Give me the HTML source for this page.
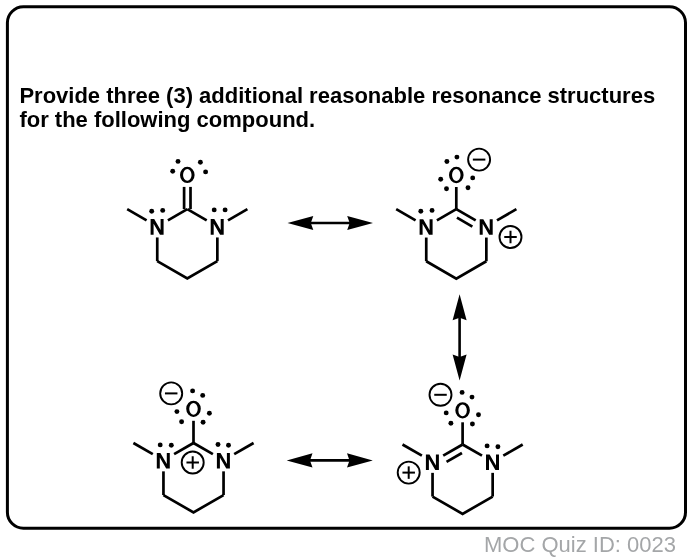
<!DOCTYPE html>
<html><head><meta charset="utf-8"><style>
html,body{margin:0;padding:0;background:#fff;}
body{width:692px;height:558px;overflow:hidden;position:relative;font-family:"Liberation Sans",sans-serif;}
svg{position:absolute;left:0;top:0;will-change:transform;}
svg text{font-family:"Liberation Sans",sans-serif;font-weight:bold;fill:#000;}
</style></head><body>
<svg width="692" height="558" viewBox="0 0 692 558">
<rect x="7.4" y="6.8" width="678.1" height="521.4" rx="16" ry="16" fill="none" stroke="#000" stroke-width="3"/>
<line x1="187.3" y1="209.1" x2="167.9" y2="220.3" stroke="#000" stroke-width="2.7" stroke-linecap="butt"/>
<line x1="187.3" y1="209.1" x2="206.7" y2="220.3" stroke="#000" stroke-width="2.7" stroke-linecap="butt"/>
<line x1="157.25" y1="237.45" x2="157.25" y2="261.15" stroke="#000" stroke-width="2.7" stroke-linecap="butt"/>
<line x1="217.35" y1="237.45" x2="217.35" y2="261.15" stroke="#000" stroke-width="2.7" stroke-linecap="butt"/>
<polyline points="157.25,261.15 187.3,278.5 217.35,261.15" fill="none" stroke="#000" stroke-width="2.7" stroke-linejoin="miter"/>
<line x1="127.2" y1="209.1" x2="146.6" y2="220.3" stroke="#000" stroke-width="2.7" stroke-linecap="butt"/>
<line x1="247.4" y1="209.1" x2="228" y2="220.3" stroke="#000" stroke-width="2.7" stroke-linecap="butt"/>
<line x1="184.1" y1="186.9" x2="184.1" y2="209.1" stroke="#000" stroke-width="2.7" stroke-linecap="butt"/>
<line x1="190.5" y1="186.9" x2="190.5" y2="209.1" stroke="#000" stroke-width="2.7" stroke-linecap="butt"/>
<path fill-rule="evenodd" fill="#000" d="M180,174.9 a7.3,8.15 0 1,0 14.6,0 a7.3,8.15 0 1,0 -14.6,0 Z M183.05,174.9 a4.25,5.9 0 1,0 8.5,0 a4.25,5.9 0 1,0 -8.5,0 Z"/>
<path fill="#000" d="M150.6,234.65 L150.6,219.05 L154.2,219.05 L160.6,230.05 L160.6,219.05 L163.6,219.05 L163.6,234.65 L160,234.65 L153.6,223.65 L153.6,234.65 Z"/>
<path fill="#000" d="M210.7,234.65 L210.7,219.05 L214.3,219.05 L220.7,230.05 L220.7,219.05 L223.7,219.05 L223.7,234.65 L220.1,234.65 L213.7,223.65 L213.7,234.65 Z"/>
<circle cx="178" cy="161.4" r="2.45" fill="#000"/>
<circle cx="200.4" cy="162.3" r="2.45" fill="#000"/>
<circle cx="172.7" cy="171.2" r="2.45" fill="#000"/>
<circle cx="205.6" cy="171.9" r="2.45" fill="#000"/>
<circle cx="151.7" cy="211.3" r="2.45" fill="#000"/>
<circle cx="162.7" cy="210.4" r="2.45" fill="#000"/>
<circle cx="214.2" cy="209.9" r="2.45" fill="#000"/>
<circle cx="225.1" cy="209.9" r="2.45" fill="#000"/>
<line x1="456.3" y1="209.2" x2="436.9" y2="220.4" stroke="#000" stroke-width="2.7" stroke-linecap="butt"/>
<line x1="456.3" y1="209.2" x2="475.7" y2="220.4" stroke="#000" stroke-width="2.7" stroke-linecap="butt"/>
<line x1="426.25" y1="237.55" x2="426.25" y2="261.25" stroke="#000" stroke-width="2.7" stroke-linecap="butt"/>
<line x1="486.35" y1="237.55" x2="486.35" y2="261.25" stroke="#000" stroke-width="2.7" stroke-linecap="butt"/>
<polyline points="426.25,261.25 456.3,278.6 486.35,261.25" fill="none" stroke="#000" stroke-width="2.7" stroke-linejoin="miter"/>
<line x1="396.2" y1="209.2" x2="415.6" y2="220.4" stroke="#000" stroke-width="2.7" stroke-linecap="butt"/>
<line x1="516.4" y1="209.2" x2="497" y2="220.4" stroke="#000" stroke-width="2.7" stroke-linecap="butt"/>
<line x1="456.3" y1="187" x2="456.3" y2="209.2" stroke="#000" stroke-width="2.7" stroke-linecap="butt"/>
<line x1="456.96" y1="217.66" x2="472.37" y2="226.56" stroke="#000" stroke-width="2.7" stroke-linecap="butt"/>
<path fill-rule="evenodd" fill="#000" d="M449,175 a7.3,8.15 0 1,0 14.6,0 a7.3,8.15 0 1,0 -14.6,0 Z M452.05,175 a4.25,5.9 0 1,0 8.5,0 a4.25,5.9 0 1,0 -8.5,0 Z"/>
<path fill="#000" d="M419.6,234.75 L419.6,219.15 L423.2,219.15 L429.6,230.15 L429.6,219.15 L432.6,219.15 L432.6,234.75 L429,234.75 L422.6,223.75 L422.6,234.75 Z"/>
<path fill="#000" d="M479.7,234.75 L479.7,219.15 L483.3,219.15 L489.7,230.15 L489.7,219.15 L492.7,219.15 L492.7,234.75 L489.1,234.75 L482.7,223.75 L482.7,234.75 Z"/>
<circle cx="446.9" cy="161.5" r="2.45" fill="#000"/>
<circle cx="456.9" cy="157.1" r="2.45" fill="#000"/>
<circle cx="440.7" cy="179.2" r="2.45" fill="#000"/>
<circle cx="446.5" cy="188.7" r="2.45" fill="#000"/>
<circle cx="472.7" cy="177.9" r="2.45" fill="#000"/>
<circle cx="468" cy="187.7" r="2.45" fill="#000"/>
<circle cx="420.8" cy="211.3" r="2.45" fill="#000"/>
<circle cx="432.05" cy="210.4" r="2.45" fill="#000"/>
<circle cx="479.1" cy="159.6" r="11.0" fill="none" stroke="#000" stroke-width="1.9"/><line x1="472.85" y1="159.6" x2="485.35" y2="159.6" stroke="#000" stroke-width="2.0" stroke-linecap="butt"/>
<circle cx="510.5" cy="237" r="11.0" fill="none" stroke="#000" stroke-width="1.9"/><line x1="504.25" y1="237" x2="516.75" y2="237" stroke="#000" stroke-width="2.0" stroke-linecap="butt"/><line x1="510.5" y1="230.75" x2="510.5" y2="243.25" stroke="#000" stroke-width="2.0" stroke-linecap="butt"/>
<line x1="462.6" y1="444.5" x2="443.2" y2="455.7" stroke="#000" stroke-width="2.7" stroke-linecap="butt"/>
<line x1="462.6" y1="444.5" x2="482" y2="455.7" stroke="#000" stroke-width="2.7" stroke-linecap="butt"/>
<line x1="432.55" y1="472.85" x2="432.55" y2="496.55" stroke="#000" stroke-width="2.7" stroke-linecap="butt"/>
<line x1="492.65" y1="472.85" x2="492.65" y2="496.55" stroke="#000" stroke-width="2.7" stroke-linecap="butt"/>
<polyline points="432.55,496.55 462.6,513.9 492.65,496.55" fill="none" stroke="#000" stroke-width="2.7" stroke-linejoin="miter"/>
<line x1="402.5" y1="444.5" x2="421.9" y2="455.7" stroke="#000" stroke-width="2.7" stroke-linecap="butt"/>
<line x1="522.7" y1="444.5" x2="503.3" y2="455.7" stroke="#000" stroke-width="2.7" stroke-linecap="butt"/>
<line x1="462.6" y1="422.3" x2="462.6" y2="444.5" stroke="#000" stroke-width="2.7" stroke-linecap="butt"/>
<line x1="461.94" y1="452.96" x2="446.53" y2="461.86" stroke="#000" stroke-width="2.7" stroke-linecap="butt"/>
<path fill-rule="evenodd" fill="#000" d="M455.3,410.3 a7.3,8.15 0 1,0 14.6,0 a7.3,8.15 0 1,0 -14.6,0 Z M458.35,410.3 a4.25,5.9 0 1,0 8.5,0 a4.25,5.9 0 1,0 -8.5,0 Z"/>
<path fill="#000" d="M425.9,470.05 L425.9,454.45 L429.5,454.45 L435.9,465.45 L435.9,454.45 L438.9,454.45 L438.9,470.05 L435.3,470.05 L428.9,459.05 L428.9,470.05 Z"/>
<path fill="#000" d="M486,470.05 L486,454.45 L489.6,454.45 L496,465.45 L496,454.45 L499,454.45 L499,470.05 L495.4,470.05 L489,459.05 L489,470.05 Z"/>
<circle cx="462.1" cy="392.4" r="2.45" fill="#000"/>
<circle cx="472" cy="397.1" r="2.45" fill="#000"/>
<circle cx="446.2" cy="412.9" r="2.45" fill="#000"/>
<circle cx="450.9" cy="423.3" r="2.45" fill="#000"/>
<circle cx="478.5" cy="414.7" r="2.45" fill="#000"/>
<circle cx="472.4" cy="424" r="2.45" fill="#000"/>
<circle cx="487.1" cy="445.9" r="2.45" fill="#000"/>
<circle cx="497.9" cy="446.7" r="2.45" fill="#000"/>
<circle cx="440.5" cy="394.8" r="11.0" fill="none" stroke="#000" stroke-width="1.9"/><line x1="434.25" y1="394.8" x2="446.75" y2="394.8" stroke="#000" stroke-width="2.0" stroke-linecap="butt"/>
<circle cx="408.7" cy="472.6" r="11.0" fill="none" stroke="#000" stroke-width="1.9"/><line x1="402.45" y1="472.6" x2="414.95" y2="472.6" stroke="#000" stroke-width="2.0" stroke-linecap="butt"/><line x1="408.7" y1="466.35" x2="408.7" y2="478.85" stroke="#000" stroke-width="2.0" stroke-linecap="butt"/>
<line x1="193.5" y1="443" x2="174.1" y2="454.2" stroke="#000" stroke-width="2.7" stroke-linecap="butt"/>
<line x1="193.5" y1="443" x2="212.9" y2="454.2" stroke="#000" stroke-width="2.7" stroke-linecap="butt"/>
<line x1="163.45" y1="471.35" x2="163.45" y2="495.05" stroke="#000" stroke-width="2.7" stroke-linecap="butt"/>
<line x1="223.55" y1="471.35" x2="223.55" y2="495.05" stroke="#000" stroke-width="2.7" stroke-linecap="butt"/>
<polyline points="163.45,495.05 193.5,512.4 223.55,495.05" fill="none" stroke="#000" stroke-width="2.7" stroke-linejoin="miter"/>
<line x1="133.4" y1="443" x2="152.8" y2="454.2" stroke="#000" stroke-width="2.7" stroke-linecap="butt"/>
<line x1="253.6" y1="443" x2="234.2" y2="454.2" stroke="#000" stroke-width="2.7" stroke-linecap="butt"/>
<line x1="193.5" y1="420.8" x2="193.5" y2="443" stroke="#000" stroke-width="2.7" stroke-linecap="butt"/>
<path fill-rule="evenodd" fill="#000" d="M186.2,408.8 a7.3,8.15 0 1,0 14.6,0 a7.3,8.15 0 1,0 -14.6,0 Z M189.25,408.8 a4.25,5.9 0 1,0 8.5,0 a4.25,5.9 0 1,0 -8.5,0 Z"/>
<path fill="#000" d="M156.8,468.55 L156.8,452.95 L160.4,452.95 L166.8,463.95 L166.8,452.95 L169.8,452.95 L169.8,468.55 L166.2,468.55 L159.8,457.55 L159.8,468.55 Z"/>
<path fill="#000" d="M216.9,468.55 L216.9,452.95 L220.5,452.95 L226.9,463.95 L226.9,452.95 L229.9,452.95 L229.9,468.55 L226.3,468.55 L219.9,457.55 L219.9,468.55 Z"/>
<circle cx="192.6" cy="390.9" r="2.45" fill="#000"/>
<circle cx="202.7" cy="395.4" r="2.45" fill="#000"/>
<circle cx="176.9" cy="411.6" r="2.45" fill="#000"/>
<circle cx="181.6" cy="421.8" r="2.45" fill="#000"/>
<circle cx="209.4" cy="413.3" r="2.45" fill="#000"/>
<circle cx="203.1" cy="422.3" r="2.45" fill="#000"/>
<circle cx="160.2" cy="444.9" r="2.45" fill="#000"/>
<circle cx="171.3" cy="445.2" r="2.45" fill="#000"/>
<circle cx="218" cy="444.5" r="2.45" fill="#000"/>
<circle cx="228.5" cy="445.2" r="2.45" fill="#000"/>
<circle cx="171.2" cy="393.4" r="11.0" fill="none" stroke="#000" stroke-width="1.9"/><line x1="164.95" y1="393.4" x2="177.45" y2="393.4" stroke="#000" stroke-width="2.0" stroke-linecap="butt"/>
<circle cx="192.7" cy="462.5" r="11.0" fill="none" stroke="#000" stroke-width="1.9"/><line x1="186.45" y1="462.5" x2="198.95" y2="462.5" stroke="#000" stroke-width="2.0" stroke-linecap="butt"/><line x1="192.7" y1="456.25" x2="192.7" y2="468.75" stroke="#000" stroke-width="2.0" stroke-linecap="butt"/>
<line x1="310.3" y1="223" x2="350.2" y2="223" stroke="#000" stroke-width="2.6" stroke-linecap="butt"/><path d="M373,223 L347.2,215.95 L349.7,223 L347.2,230.05 Z" fill="#000"/><path d="M287.5,223 L313.3,215.95 L310.8,223 L313.3,230.05 Z" fill="#000"/>
<line x1="309.5" y1="460.4" x2="350" y2="460.4" stroke="#000" stroke-width="2.6" stroke-linecap="butt"/><path d="M372.8,460.4 L347,453.35 L349.5,460.4 L347,467.45 Z" fill="#000"/><path d="M286.7,460.4 L312.5,453.35 L310,460.4 L312.5,467.45 Z" fill="#000"/>
<line x1="459.6" y1="317.2" x2="459.6" y2="357.4" stroke="#000" stroke-width="2.6" stroke-linecap="butt"/><path d="M459.6,380.4 L452.6,354.4 L459.6,356.9 L466.6,354.4 Z" fill="#000"/><path d="M459.6,294.2 L452.6,320.2 L459.6,317.7 L466.6,320.2 Z" fill="#000"/>
<text x="19.4" y="103" font-size="22">Provide three (3) additional reasonable resonance structures</text>
<text x="19.4" y="126.8" font-size="22">for the following compound.</text>
<text x="484" y="552" font-size="22" style="font-weight:normal;fill:#a4a6a8">MOC Quiz ID: 0023</text>
</svg>
</body></html>
